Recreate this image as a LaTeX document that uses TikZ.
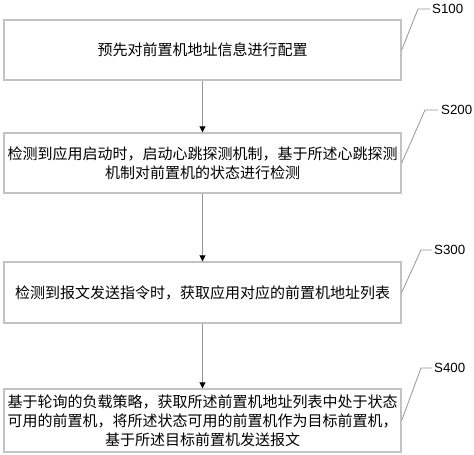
\documentclass[tikz,border=0pt]{standalone}
\usepackage{fontspec}
\setmainfont{Liberation Sans}
\newfontfamily\cjk{Noto Sans CJK SC}
\usetikzlibrary{arrows.meta}
\definecolor{boxgray}{RGB}{195,195,195}
\definecolor{linegray}{RGB}{150,150,150}
\tikzset{
  stepbox/.style={draw=boxgray, line width=1.4pt, minimum width=397pt, text width=397pt,
    inner sep=0pt, align=center, font=\cjk\fontsize{15}{19}\selectfont},
  flow/.style={draw=linegray, line width=0.9pt, -{Triangle[width=6pt,length=6pt,color=black]}},
  leader/.style={draw=linegray, line width=0.8pt},
  steplabel/.style={anchor=west, inner sep=0pt, font=\fontsize{13.3}{15}\selectfont}
}
\begin{document}
\begin{tikzpicture}[x=1pt,y=-1pt]
\useasboundingbox (0,0) rectangle (474,455);
\node[stepbox, minimum height=60pt] (b1) at (202.5,50) {预先对前置机地址信息进行配置};
\node[stepbox, minimum height=60pt] (b2) at (202.5,163) {检测到应用启动时，启动心跳探测机制，基于所述心跳探测\\机制对前置机的状态进行检测};
\node[stepbox, minimum height=61pt] (b3) at (202.5,292.5) {检测到报文发送指令时，获取应用对应的前置机地址列表};
\node[stepbox, minimum height=63pt] (b4) at (202.5,420.5) {基于轮询的负载策略，获取所述前置机地址列表中处于状态\\可用的前置机，将所述状态可用的前置机作为目标前置机，\\基于所述目标前置机发送报文};
\draw[flow] (b1.south) -- (b2.north);
\draw[flow] (b2.south) -- (b3.north);
\draw[flow] (b3.south) -- (b4.north);
\node[steplabel] (l1) at (432,9) {S100};
\node[steplabel] (l2) at (441,110) {S200};
\node[steplabel] (l3) at (434,250) {S300};
\node[steplabel] (l4) at (434,368) {S400};
\draw[leader] (b1.east) -- (418,9) -- ([xshift=-2pt]l1.west);
\draw[leader] (b2.east) -- (425,110) -- ([xshift=-3pt]l2.west);
\draw[leader] (b3.east) -- (421,250) -- ([xshift=-2pt]l3.west);
\draw[leader] (b4.east) -- (421,368) -- ([xshift=-2pt]l4.west);
\end{tikzpicture}
\end{document}
